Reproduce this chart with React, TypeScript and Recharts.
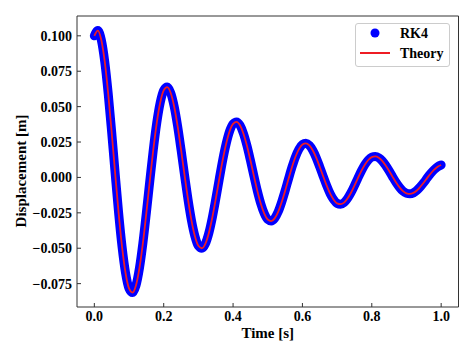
import { LineChart, Line, XAxis, YAxis, Legend } from 'recharts';

const timeS = [
  0, 0.01, 0.02, 0.03, 0.04, 0.05, 0.06, 0.07, 0.08, 0.09,
  0.1, 0.11, 0.12, 0.13, 0.14, 0.15, 0.16, 0.17, 0.18, 0.19,
  0.2, 0.21, 0.22, 0.23, 0.24, 0.25, 0.26, 0.27, 0.28, 0.29,
  0.3, 0.31, 0.32, 0.33, 0.34, 0.35, 0.36, 0.37, 0.38, 0.39,
  0.4, 0.41, 0.42, 0.43, 0.44, 0.45, 0.46, 0.47, 0.48, 0.49,
  0.5, 0.51, 0.52, 0.53, 0.54, 0.55, 0.56, 0.57, 0.58, 0.59,
  0.6, 0.61, 0.62, 0.63, 0.64, 0.65, 0.66, 0.67, 0.68, 0.69,
  0.7, 0.71, 0.72, 0.73, 0.74, 0.75, 0.76, 0.77, 0.78, 0.79,
  0.8, 0.81, 0.82, 0.83, 0.84, 0.85, 0.86, 0.87, 0.88, 0.89,
  0.9, 0.91, 0.92, 0.93, 0.94, 0.95, 0.96, 0.97, 0.98, 0.99,
  1.0,
];

// displacement, metres
const rk4Disp = [
  0.1000, 0.1037, 0.0972, 0.0817, 0.0591, 0.0319, 0.0029, -0.0250, -0.0492, -0.0675,
  -0.0784, -0.0813, -0.0763, -0.0641, -0.0464, -0.0250, -0.0023, 0.0196, 0.0386, 0.0529,
  0.0615, 0.0638, 0.0598, 0.0503, 0.0364, 0.0196, 0.0018, -0.0154, -0.0303, -0.0415,
  -0.0483, -0.0500, -0.0469, -0.0394, -0.0285, -0.0154, -0.0014, 0.0121, 0.0237, 0.0326,
  0.0378, 0.0392, 0.0368, 0.0309, 0.0224, 0.0121, 0.0011, -0.0095, -0.0186, -0.0255,
  -0.0297, -0.0308, -0.0289, -0.0243, -0.0175, -0.0095, -0.0009, 0.0074, 0.0146, 0.0200,
  0.0233, 0.0241, 0.0226, 0.0190, 0.0138, 0.0074, 0.0007, -0.0058, -0.0115, -0.0157,
  -0.0183, -0.0189, -0.0178, -0.0149, -0.0108, -0.0058, -0.0005, 0.0046, 0.0090, 0.0123,
  0.0143, 0.0148, 0.0139, 0.0117, 0.0085, 0.0046, 0.0004, -0.0036, -0.0070, -0.0097,
  -0.0112, -0.0116, -0.0109, -0.0092, -0.0066, -0.0036, -0.0003, 0.0028, 0.0055, 0.0076,
  0.0088,
];

// theory curve sits right on top of the RK4 points
const theoryDisp = rk4Disp;

const xTicks = [0, 0.2, 0.4, 0.6, 0.8, 1.0];
const yTicks = [-0.075, -0.05, -0.025, 0, 0.025, 0.05, 0.075, 0.1];

const data = timeS.map((t, i) => ({ t, rk4: rk4Disp[i], theory: theoryDisp[i] }));

const FONT = '"Liberation Serif", "Times New Roman", serif';
const BLUE = '#0000ff';
const RED = '#ee1c24';
const AXIS = '#333333';

const tickStyle = { fontFamily: FONT, fontWeight: 700, fontSize: 14, fill: '#000' };
const labelStyle = { ...tickStyle, fontSize: 15 };

const fmtY = (v: number) => {
  const s = Math.abs(v).toFixed(3);
  return v < 0 ? '\u2212' + s : s;
};

function XLabel(props: any) {
  const { x, width } = props.viewBox;
  return (
    <text x={x + width / 2} y={333} textAnchor="middle" dominantBaseline="central" style={labelStyle}>
      Time [s]
    </text>
  );
}

function YLabel(props: any) {
  return (
    <text transform="translate(21, 171) rotate(-90)" textAnchor="middle" dominantBaseline="central" style={labelStyle}>
      Displacement [m]
    </text>
  );
}

function LegendBox() {
  return (
    <div style={{ width: 95, height: 44, border: '1px solid #cccccc', borderRadius: 3, background: '#fff', boxSizing: 'border-box' }}>
      <svg width={93} height={42} style={{ display: 'block' }}>
        <circle cx={19} cy={9} r={4.5} fill={BLUE} />
        <text x={44} y={9} dominantBaseline="central" style={tickStyle}>RK4</text>
        <line x1={4} x2={34} y1={29} y2={29} stroke={RED} strokeWidth={2} />
        <text x={44} y={29} dominantBaseline="central" style={tickStyle}>Theory</text>
      </svg>
    </div>
  );
}

export default function App() {
  return (
    <div style={{ position: 'absolute', left: 0, top: 0, width: 474, height: 355, background: '#fff' }}>
      <LineChart width={474} height={355} data={data} margin={{ top: 6, right: 5.5, left: 0, bottom: 0 }}>
        <XAxis
          dataKey="t"
          type="number"
          domain={[-0.05, 1.05]}
          allowDataOverflow
          ticks={xTicks}
          tickFormatter={(v: number) => v.toFixed(1)}
          height={48}
          tickSize={-4}
          tickMargin={8}
          tick={tickStyle}
          stroke={AXIS}
          tickLine={{ stroke: AXIS }}
          label={<XLabel />}
        />
        <XAxis
          xAxisId="top"
          dataKey="t"
          type="number"
          orientation="top"
          domain={[-0.05, 1.05]}
          allowDataOverflow
          ticks={xTicks}
          height={10}
          tickSize={-4}
          tick={false}
          stroke={AXIS}
          tickLine={{ stroke: AXIS }}
        />
        <YAxis
          type="number"
          domain={[-0.0915, 0.114]}
          allowDataOverflow
          ticks={yTicks}
          tickFormatter={fmtY}
          width={77}
          tickSize={-4}
          tickMargin={9}
          tick={tickStyle}
          stroke={AXIS}
          tickLine={{ stroke: AXIS }}
          label={<YLabel />}
        />
        <YAxis
          yAxisId="right"
          orientation="right"
          type="number"
          domain={[-0.0915, 0.114]}
          allowDataOverflow
          ticks={yTicks}
          width={10}
          tickSize={-4}
          tick={false}
          stroke={AXIS}
          tickLine={{ stroke: AXIS }}
        />
        <Legend
          layout="vertical"
          align="center"
          verticalAlign="middle"
          content={() => <LegendBox />}
          wrapperStyle={{ position: 'absolute', left: 355, top: 23, width: 95, height: 44 }}
        />
        <Line
          name="RK4"
          dataKey="rk4"
          type="monotone"
          stroke={BLUE}
          strokeWidth={9}
          strokeLinecap="round"
          strokeLinejoin="round"
          dot={false}
          isAnimationActive={false}
        />
        <Line
          name="Theory"
          dataKey="theory"
          type="monotone"
          stroke={RED}
          strokeWidth={1.8}
          dot={false}
          isAnimationActive={false}
        />
      </LineChart>
    </div>
  );
}
